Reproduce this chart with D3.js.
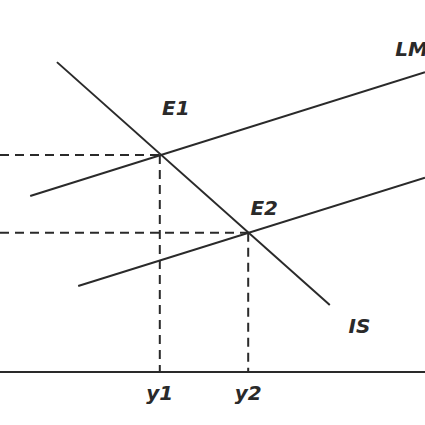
<!DOCTYPE html>
<html><head><meta charset="utf-8">
<script src="https://cdn.jsdelivr.net/npm/d3@7"></script>
<style>body{margin:0;background:#fff}</style></head>
<body><svg id="c" width="425" height="425"></svg>
<script>
const curveNames = ["IS","LM1","LM2"];
const curveX = [[13.4,77.6],[7.1,100],[18.4,100]];
const curveY = [[83.3,18.0],[47.3,80.6],[23.1,52.2]];
const eqNames = ["E1","E2"];
const eqX = [37.6,58.4];
const eqY = [58.3,37.4];
const tickLabels = ["y1","y2"];
const svg = d3.select("#c");
const x = d3.scaleLinear().domain([0,100]).range([0,425]);
const y = d3.scaleLinear().domain([0,100]).range([372,0]);
const col = "#2a2a2a";
const labelOff = [-40,-18];
function lab(px,py,t,anchor){
  return svg.append("text").attr("x",px).attr("y",py).attr("text-anchor",anchor||"start")
    .attr("font-family","DejaVu Sans").attr("font-style","italic").attr("font-weight","bold")
    .attr("font-size",20).attr("fill",col).text(t);
}
svg.append("line").attr("x1",x(0)).attr("x2",x(100)).attr("y1",y(0)).attr("y2",y(0)).attr("stroke",col).attr("stroke-width",2);
eqX.forEach((ex,i)=>{
  svg.append("line").attr("x1",x(0)).attr("x2",x(ex)).attr("y1",y(eqY[i])).attr("y2",y(eqY[i]))
    .attr("stroke",col).attr("stroke-width",2).attr("stroke-dasharray","9,6");
  svg.append("line").attr("x1",x(ex)).attr("x2",x(ex)).attr("y1",y(eqY[i])).attr("y2",y(0))
    .attr("stroke",col).attr("stroke-width",2).attr("stroke-dasharray","9,6");
  lab(x(ex),y(0)+28,tickLabels[i],"middle");
  lab(x(ex)+16,y(eqY[i])+labelOff[i],eqNames[i],"middle");
});
curveNames.forEach((n,i)=>{
  svg.append("line").attr("x1",x(curveX[i][0])).attr("x2",x(curveX[i][1]))
    .attr("y1",y(curveY[i][0])).attr("y2",y(curveY[i][1])).attr("stroke",col).attr("stroke-width",2);
});
lab(x(82),y(10.5),"IS");
lab(x(93),y(85),"LM");
</script></body></html>
